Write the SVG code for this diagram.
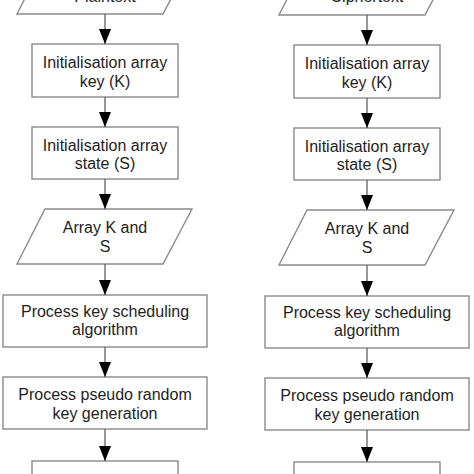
<svg xmlns="http://www.w3.org/2000/svg" width="474" height="474" viewBox="0 0 474 474">
<defs>
<style>
.n{fill:#fff;stroke:#8a8a8a;stroke-width:1.4}
.t{font-family:"Liberation Sans",Arial,sans-serif;font-size:16px;fill:#1e1e1e;text-anchor:middle}
.c{stroke:#555;stroke-width:1.2;fill:none;marker-end:url(#ah)}
</style>
<marker id="ah" markerUnits="userSpaceOnUse" markerWidth="15" markerHeight="12" viewBox="0 0 15 12" refX="15" refY="6" orient="auto">
<path d="M0,0 L15,6 L0,12 z" fill="#000"/>
</marker>
</defs>
<rect width="474" height="474" fill="#fff"/>
<g id="left">
<g id="l-input"><path class="n" d="M45,-41 H192 L163,14 H17 Z"/><text class="t" x="105" y="2">Plaintext</text></g>
<g id="l-initK"><rect class="n" x="32" y="44" width="146" height="53"/><text class="t" x="105" y="67.5">Initialisation array</text><text class="t" x="105" y="86.5">key (K)</text></g>
<g id="l-initS"><rect class="n" x="32" y="127" width="146" height="52"/><text class="t" x="105" y="150.5">Initialisation array</text><text class="t" x="105" y="169">state (S)</text></g>
<g id="l-arr"><path class="n" d="M45,209 H192 L163,264 H17 Z"/><text class="t" x="105" y="232.5">Array K and</text><text class="t" x="105" y="251.5">S</text></g>
<g id="l-ksa"><rect class="n" x="3" y="295" width="204" height="52"/><text class="t" x="105" y="316.5">Process key scheduling</text><text class="t" x="105" y="335">algorithm</text></g>
<g id="l-prga"><rect class="n" x="3" y="377" width="204" height="52"/><text class="t" x="105" y="399.5">Process pseudo random</text><text class="t" x="105" y="418.5">key generation</text></g>
<g id="l-next"><rect class="n" x="32" y="461" width="146" height="30"/></g>
</g>
<g id="right" transform="translate(262,1)">
<g id="r-input"><path class="n" d="M45,-41 H192 L163,14 H17 Z"/><text class="t" x="105" y="1">Ciphertext</text></g>
<g id="r-initK"><rect class="n" x="32" y="44" width="146" height="53"/><text class="t" x="105" y="67.5">Initialisation array</text><text class="t" x="105" y="86.5">key (K)</text></g>
<g id="r-initS"><rect class="n" x="32" y="127" width="146" height="52"/><text class="t" x="105" y="150.5">Initialisation array</text><text class="t" x="105" y="169">state (S)</text></g>
<g id="r-arr"><path class="n" d="M45,209 H192 L163,264 H17 Z"/><text class="t" x="105" y="232.5">Array K and</text><text class="t" x="105" y="251.5">S</text></g>
<g id="r-ksa"><rect class="n" x="3" y="295" width="204" height="52"/><text class="t" x="105" y="316.5">Process key scheduling</text><text class="t" x="105" y="335">algorithm</text></g>
<g id="r-prga"><rect class="n" x="3" y="377" width="204" height="52"/><text class="t" x="105" y="399.5">Process pseudo random</text><text class="t" x="105" y="418.5">key generation</text></g>
<g id="r-next"><rect class="n" x="32" y="461" width="146" height="30"/></g>
</g>
<g id="connectors">
<path class="c" d="M105,14 V44"/>
<path class="c" d="M105,97 V127"/>
<path class="c" d="M105,179 V209"/>
<path class="c" d="M105,264 V295"/>
<path class="c" d="M105,347 V377"/>
<path class="c" d="M105,429 V461"/>
<path class="c" d="M367,15 V45"/>
<path class="c" d="M367,98 V128"/>
<path class="c" d="M367,180 V210"/>
<path class="c" d="M367,265 V296"/>
<path class="c" d="M367,348 V378"/>
<path class="c" d="M367,430 V462"/>
</g>
</svg>
